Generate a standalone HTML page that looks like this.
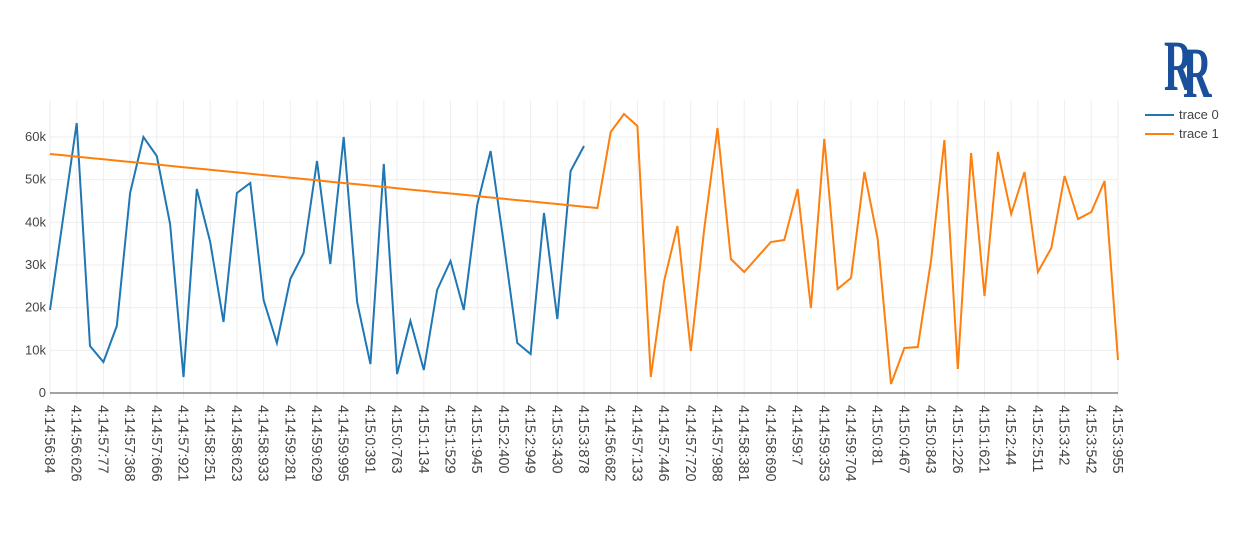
<!DOCTYPE html>
<html><head><meta charset="utf-8"><style>
html,body{margin:0;padding:0;background:#fff;}
svg{display:block;font-family:"Liberation Sans",sans-serif;}
</style></head><body>
<svg id="s" width="1237" height="550" xmlns="http://www.w3.org/2000/svg">
<g id="grid"></g>
<line x1="50" y1="393" x2="1118" y2="393" stroke="#444" stroke-width="1"/>
<g id="lab" font-size="12" fill="#444"></g>
<polyline id="t0" fill="none" stroke="#1f77b4" stroke-width="2"/>
<polyline id="t1" fill="none" stroke="#ff7f0e" stroke-width="2"/>
<g font-family="Liberation Serif,serif" font-weight="bold" fill="#1a4f9c">
<text transform="translate(1164,90) scale(0.55,1)" font-size="72">R</text>
<text transform="translate(1183,97) scale(0.55,1)" font-size="72">R</text>
</g>
<line x1="1145" y1="115" x2="1174" y2="115" stroke="#1f77b4" stroke-width="2"/>
<text x="1179" y="119" font-size="13" fill="#444">trace 0</text>
<line x1="1145" y1="134" x2="1174" y2="134" stroke="#ff7f0e" stroke-width="2"/>
<text x="1179" y="138" font-size="13" fill="#444">trace 1</text>
</svg>
<script>
var ns="http://www.w3.org/2000/svg";
function el(p,t,a,txt){var e=document.createElementNS(ns,t);for(var k in a)e.setAttribute(k,a[k]);if(txt)e.textContent=txt;p.appendChild(e);return e;}
var g=document.getElementById('grid'),lab=document.getElementById('lab');
var labels=["4:14:56:84","4:14:56:626","4:14:57:77","4:14:57:368","4:14:57:666","4:14:57:921","4:14:58:251","4:14:58:623","4:14:58:933","4:14:59:281","4:14:59:629","4:14:59:995","4:15:0:391","4:15:0:763","4:15:1:134","4:15:1:529","4:15:1:945","4:15:2:400","4:15:2:949","4:15:3:430","4:15:3:878","4:14:56:682","4:14:57:133","4:14:57:446","4:14:57:720","4:14:57:988","4:14:58:381","4:14:58:690","4:14:59:7","4:14:59:353","4:14:59:704","4:15:0:81","4:15:0:467","4:15:0:843","4:15:1:226","4:15:1:621","4:15:2:44","4:15:2:511","4:15:3:42","4:15:3:542","4:15:3:955"];
var step=1068/40;
for(var i=0;i<6;i++){var y=393-(i+1)*42.67;el(g,'line',{x1:50,x2:1118,y1:y,y2:y,stroke:'#eee'});}
for(var i=0;i<7;i++){var y=393-i*42.67;el(lab,'text',{x:46,y:y+4,'text-anchor':'end','font-size':13},i==0?'0':(i*10)+'k');}
labels.forEach(function(l,i){var x=50+i*step;el(g,'line',{x1:x,x2:x,y1:100,y2:399,stroke:'#eee'});
el(lab,'text',{transform:'translate('+(x-5)+',405) rotate(90)','font-size':14.5},l);});
var y0=[310,216,123,346,362,326,193,137,156,224,377,189,242,322,193,183,300,343,279,253,161,264,137,302,364,164,374,321,370,290,261,310,205,151,244,343,354,213,319,171,146];
var y1tail=[132,114,126,377,281,226,351,230,128,259,272,257,242,240,189,308,139,289,278,172,239,384,348,347,260,140,369,153,296,152,214,172,272,248,176,219,212,181,360];
var d=step/2,p0=[],p1=[];
y0.forEach(function(y,i){p0.push((50+i*d).toFixed(1)+','+y);});
for(var i=0;i<=41;i++){p1.push((50+i*d).toFixed(1)+','+(154+(208-154)*i/41).toFixed(1));}
y1tail.forEach(function(y,i){p1.push((50+(42+i)*d).toFixed(1)+','+y);});
document.getElementById('t0').setAttribute('points',p0.join(' '));
document.getElementById('t1').setAttribute('points',p1.join(' '));
</script>
</body></html>
